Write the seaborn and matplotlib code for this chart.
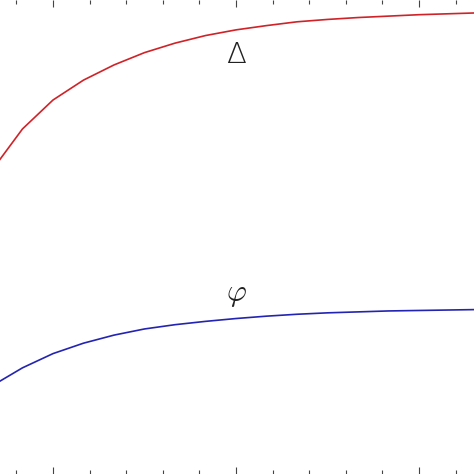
import numpy as np
import pandas as pd
import matplotlib
matplotlib.use("Agg")
import matplotlib.pyplot as plt
from matplotlib.ticker import MultipleLocator
import seaborn as sns

# sample points (x step 1/6)
x_vals = [k / 6 for k in range(4, 21)]
delta_vals = [0.641, 0.728, 0.789, 0.831, 0.863, 0.889, 0.909, 0.925, 0.937,
              0.946, 0.954, 0.959, 0.963, 0.966, 0.969, 0.971, 0.973]
phi_vals = [0.186, 0.224, 0.254, 0.276, 0.293, 0.306, 0.315, 0.322, 0.328,
            0.333, 0.337, 0.340, 0.342, 0.344, 0.345, 0.346, 0.347]
labels = ["Δ", "$\\varphi$"]

df = pd.DataFrame({"x": x_vals * 2,
                   "y": delta_vals + phi_vals,
                   "series": ["delta"] * len(x_vals) + ["phi"] * len(x_vals)})

sns.set_style("white")
plt.rcParams["mathtext.fontset"] = "cm"

fig = plt.figure(figsize=(4.74, 4.74), dpi=100)
ax = fig.add_axes([0, 0, 1, 1])
sns.lineplot(data=df, x="x", y="y", hue="series",
             palette={"delta": "#cf2328", "phi": "#2424b2"},
             linewidth=1.2, legend=False, ax=ax)

ax.set_xlim(0.7104, 3.3005)
ax.set_ylim(0, 1)
ax.xaxis.set_major_locator(MultipleLocator(1.0))
ax.xaxis.set_minor_locator(MultipleLocator(0.2))
ax.tick_params(axis="x", which="both", direction="in", top=True, bottom=True,
               labelbottom=False, labeltop=False, color="#444444", width=0.8)
ax.tick_params(axis="x", which="major", length=5)
ax.tick_params(axis="x", which="minor", length=3.2)
ax.tick_params(axis="y", left=False, right=False, labelleft=False)
ax.set_xlabel("")
ax.set_ylabel("")
for s in ax.spines.values():
    s.set_visible(False)

ax.text(2.0, 0.885, labels[0], ha="center", va="center", fontsize=21,
        family="DejaVu Sans", fontweight="light", color="#222222")
ax.text(2.0, 0.378, labels[1], ha="center", va="center", fontsize=22,
        color="#222222")

fig.savefig("out.png", dpi=100)
